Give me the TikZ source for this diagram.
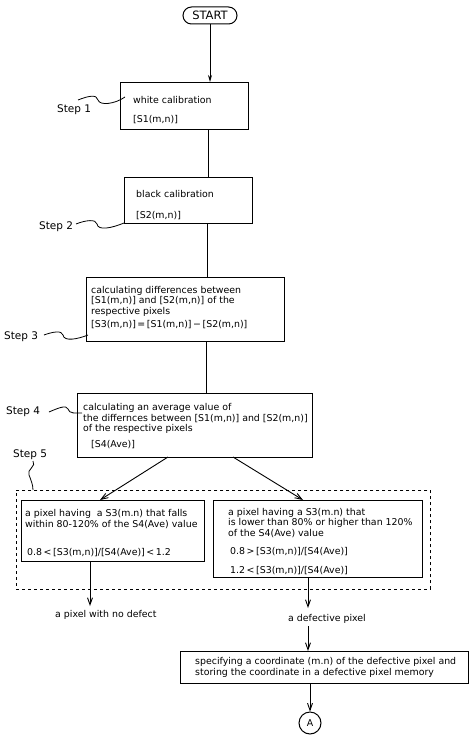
\documentclass[tikz,border=0pt]{standalone}
\usepackage{fontspec}
\setmainfont{DejaVu Sans}
\usetikzlibrary{arrows.meta,calc}
\begin{document}
\begin{tikzpicture}[x=1pt,y=-1pt,
  boxnode/.style={draw, line width=1pt, inner sep=0pt, anchor=north west},
  txt/.style={anchor=base west, inner sep=0pt, font=\fontsize{9.4}{10.5}\selectfont},
  steplbl/.style={anchor=base west, inner sep=0pt, font=\fontsize{10.5}{13}\selectfont},
  conn/.style={line width=0.9pt},
  arr/.style={line width=0.9pt, -{Straight Barb[length=7pt,width=5pt]}},
  leader/.style={line width=0.8pt}]
\useasboundingbox (0,0) rectangle (474,741);

% START
\node[draw, line width=1pt, rounded corners=8.5pt, minimum width=54pt, minimum height=17pt, inner sep=0pt, font=\fontsize{11.5}{13}\selectfont] (start) at (210,15.5) {START};

% Box 1
\node[boxnode, minimum width=128pt, minimum height=47pt] (b1) at (120,82) {};
\node[txt] (b1t1) at (133,103) {white calibration};
\node[txt] (b1t2) at (133,123) {[S1(m,n)]};
\node[steplbl] (s1) at (57,113) {Step 1};

% Box 2
\node[boxnode, minimum width=128pt, minimum height=46pt] (b2) at (124,177) {};
\node[txt] (b2t1) at (136,197) {black calibration};
\node[txt] (b2t2) at (136,218) {[S2(m,n)]};
\node[steplbl] (s2) at (39,229) {Step 2};

% Box 3
\node[boxnode, minimum width=198pt, minimum height=64pt] (b3) at (86,277) {};
\node[txt] (b3t1) at (91,293) {calculating differences between};
\node[txt] (b3t2) at (91,303) {[S1(m,n)] and [S2(m,n)] of the};
\node[txt] (b3t3) at (91,314) {respective pixels};
\node[txt] (b3t4) at (91,327) {[S3(m,n)]\,=\,[S1(m,n)]\,−\,[S2(m,n)]};
\node[steplbl] (s3) at (4,339) {Step 3};

% Box 4
\node[boxnode, minimum width=235pt, minimum height=64pt] (b4) at (77,393) {};
\node[txt] (b4t1) at (83,410) {calculating an average value of};
\node[txt] (b4t2) at (83,421) {the differnces between [S1(m,n)] and [S2(m,n)]};
\node[txt] (b4t3) at (83,431) {of the respective pixels};
\node[txt] (b4t4) at (91,447) {[S4(Ave)]};
\node[steplbl] (s4) at (6,414) {Step 4};

% Step 5 dashed group
\node[draw, dashed, line width=0.9pt, minimum width=414pt, minimum height=99pt, inner sep=0pt, anchor=north west] (grp) at (16,490) {};
\node[steplbl] (s5) at (13,457) {Step 5};

% Left box
\node[boxnode, minimum width=183pt, minimum height=61pt] (bl) at (21,500) {};
\node[txt] (blt1) at (25,516) {a pixel having\ \ a S3(m.n) that falls};
\node[txt] (blt2) at (25,527) {within 80-120\% of the S4(Ave) value};
\node[txt] (blt3) at (27,555) {0.8\,<\,[S3(m,n)]/[S4(Ave)]\,<\,1.2};

% Right box
\node[boxnode, minimum width=209pt, minimum height=77pt] (br) at (213,500) {};
\node[txt] (brt1) at (228,515) {a pixel having a S3(m.n) that};
\node[txt] (brt2) at (228,525) {is lower than 80\% or higher than 120\%};
\node[txt] (brt3) at (228,536) {of the S4(Ave) value};
\node[txt] (brt4) at (230,554) {0.8\,>\,[S3(m,n)]/[S4(Ave)]};
\node[txt] (brt5) at (230,573) {1.2\,<\,[S3(m,n)]/[S4(Ave)]};

% results
\node[txt] (nodef) at (55,617) {a pixel with no defect};
\node[txt] (defp) at (288,621) {a defective pixel};

% bottom box
\node[boxnode, minimum width=288pt, minimum height=32pt] (bb) at (180,651) {};
\node[txt] (bbt1) at (195,664) {specifying a coordinate (m.n) of the defective pixel and};
\node[txt] (bbt2) at (195,675) {storing the coordinate in a defective pixel memory};

% connector A
\node[draw, circle, line width=1pt, minimum size=22pt, inner sep=0pt, font=\fontsize{9.4}{10}\selectfont] (cA) at (310,723) {A};

% coordinates for connectors
\coordinate (x208) at (208,0);
\coordinate (x207) at (207,0);
\coordinate (x206) at (206,0);
\coordinate (l4a) at (168,457);
\coordinate (l4b) at (233,457);
\coordinate (tl) at (100,500);
\coordinate (tr) at (303,500);
\coordinate (x90) at (90,0);
\coordinate (x308) at (308,0);
\coordinate (nodefTop) at (90,606);
\coordinate (defTop) at (308,608);
\coordinate (defBot) at (308,626);

% connectors
\draw[line width=0.9pt, -{Stealth[length=7pt,width=4pt]}] (start.south) -- (start.south |- b1.north);
\draw[conn] (x208 |- b1.south) -- (x208 |- b2.north);
\draw[conn] (x207 |- b2.south) -- (x207 |- b3.north);
\draw[conn] (x206 |- b3.south) -- (x206 |- b4.north);
\draw[arr] (l4a) -- (tl);
\draw[arr] (l4b) -- (tr);
\draw[arr] (x90 |- bl.south) -- (nodefTop);
\draw[arr] (x308 |- br.south) -- (defTop);
\draw[arr] (defBot) -- (x308 |- bb.north);
\draw[arr] (cA.north |- bb.south) -- (cA.north);

% leaders
\draw[leader] (78,100) .. controls (88,96) and (97,94) .. (98,100) .. controls (100,106) and (115,104) .. (125,97);
\draw[leader] (76,224) .. controls (86,220) and (96,219) .. (97,224) .. controls (98,231) and (112,228) .. (124,223);
\draw[leader] (44,335) .. controls (52,332) and (62,330) .. (63,335) .. controls (64,342) and (78,339) .. (88,335);
\draw[leader] (49,412) .. controls (56,409) and (67,404) .. (68,409) .. controls (69,414) and (76,413) .. (82,413);
\draw[leader] (33,461) .. controls (37,466) and (26,470) .. (29,475) .. controls (31,480) and (33,485) .. (33,490);
\end{tikzpicture}
\end{document}
